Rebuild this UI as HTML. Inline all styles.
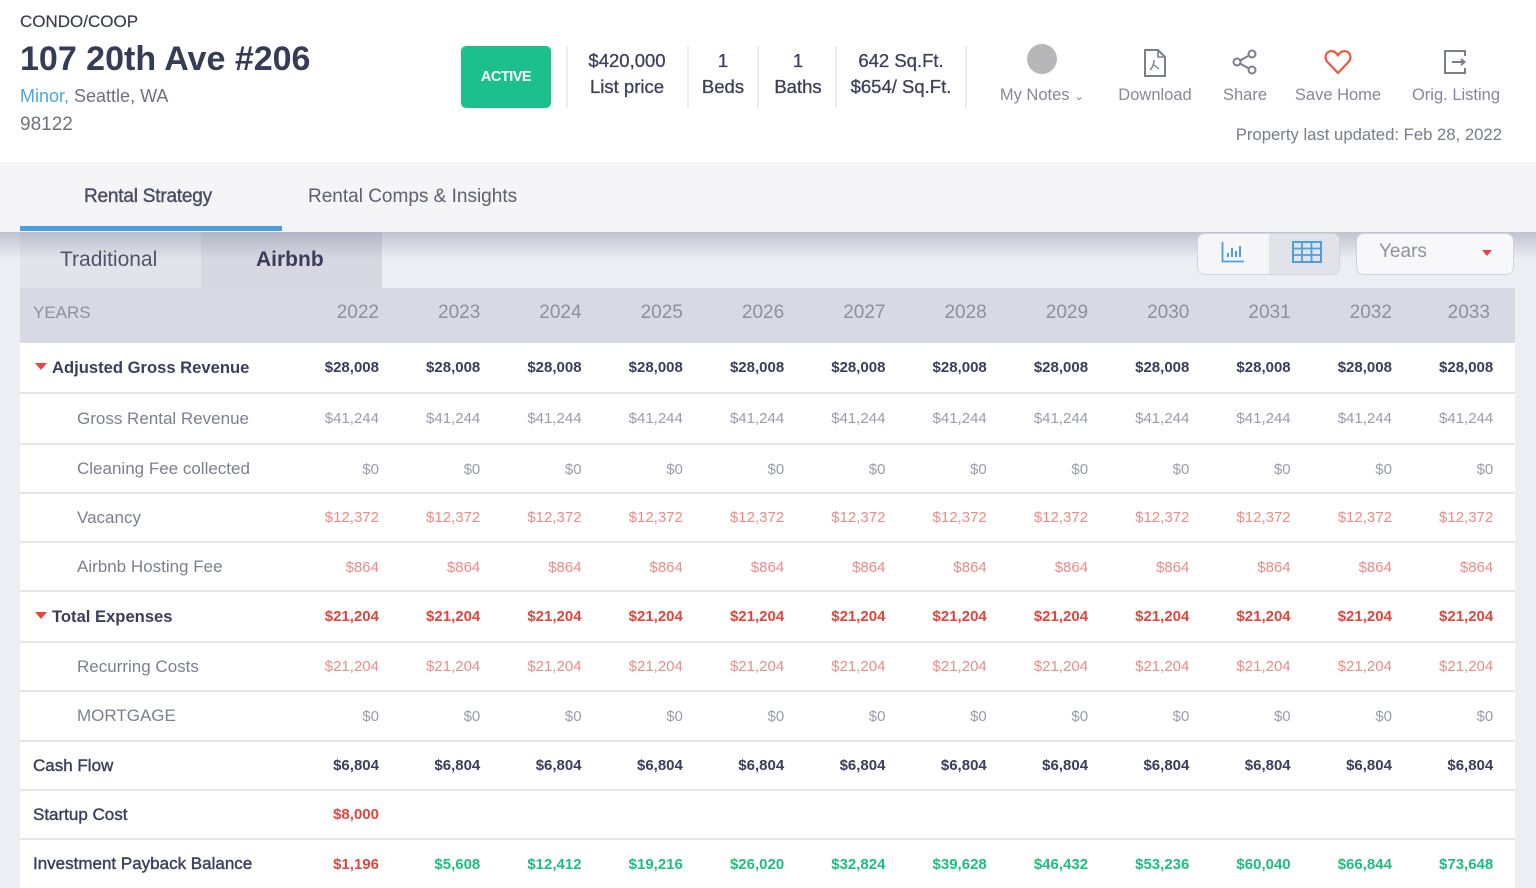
<!DOCTYPE html>
<html><head><meta charset="utf-8">
<style>
*{margin:0;padding:0;box-sizing:border-box}
body{width:1536px;height:885px;overflow:hidden;background:#eceef3;font-family:"Liberation Sans",Arial,sans-serif;position:relative}
.abs{position:absolute}
#top{left:0;top:0;width:1536px;height:162px;background:#fff}
#tabbar{left:0;top:162px;width:1536px;height:70px;background:#f5f5f8}
.sep{position:absolute;top:46px;width:2px;height:62px;background:#ececf0}
.stat{position:absolute;top:48px;text-align:center;font-size:18.5px;color:#3c405c;line-height:26px;transform:translateX(-50%);white-space:nowrap;-webkit-text-stroke:0.3px #3c405c}
.act{position:absolute;top:86px;font-size:16.5px;color:#868995;transform:translateX(-50%);white-space:nowrap}
.r{position:absolute;left:20px;width:1495px;background:#fff;display:flex;align-items:center;border-top:2px solid #e5e6eb}
.lab{width:257.7px;font-size:17px;white-space:nowrap;flex:none}
.c{width:101.3px;text-align:right;font-size:15px;flex:none;white-space:nowrap}
.main .lab{font-weight:bold;color:#3a3e58;font-size:16.6px}
.sub .lab{padding-left:57px;color:#7c7f8f}
.top .lab{padding-left:13px;color:#3a3e58;-webkit-text-stroke:0.4px #3a3e58}
.tri{display:inline-block;width:0;height:0;border-left:6px solid transparent;border-right:6px solid transparent;border-top:7px solid #e8453c;margin-left:15px;margin-right:5px;vertical-align:3px}
.b{font-weight:bold;color:#3a3e58}
.g{color:#9a9cab}
.rb{font-weight:bold;color:#e2453d}
.rl{color:#ef8b85}
.gr{font-weight:bold;color:#1dbf7d}
.yr{font-size:19px;color:#8e909c}
</style></head><body>

<div id="top" class="abs"></div>
<div class="abs" style="left:20px;top:12px;font-size:17px;color:#3b3f4f;-webkit-text-stroke:0.2px #3b3f4f">CONDO/COOP</div>
<div class="abs" style="left:20px;top:40px;font-size:34px;font-weight:bold;color:#363b56">107 20th Ave #206</div>
<div class="abs" style="left:20px;top:86px;font-size:18px;color:#6e717c"><span style="color:#4aa9e2">Minor,</span> Seattle, WA</div>
<div class="abs" style="left:20px;top:114px;font-size:19px;color:#6e717c">98122</div>

<div class="abs" style="left:461px;top:46px;width:90px;height:62px;background:#1cc08b;border-radius:5px;color:#fff;font-weight:bold;font-size:14.5px;text-align:center;line-height:62px;letter-spacing:-0.5px">ACTIVE</div>
<div class="sep" style="left:566px"></div>
<div class="stat" style="left:627px">$420,000<br>List price</div>
<div class="sep" style="left:687px"></div>
<div class="stat" style="left:723px">1<br>Beds</div>
<div class="sep" style="left:757px"></div>
<div class="stat" style="left:798px">1<br>Baths</div>
<div class="sep" style="left:835px"></div>
<div class="stat" style="left:901px">642 Sq.Ft.<br>$654/ Sq.Ft.</div>
<div class="sep" style="left:965px"></div>

<div class="abs" style="left:1027px;top:44px;width:30px;height:30px;border-radius:50%;background:#b7b7b9"></div>
<div class="act" style="left:1042px">My Notes <span style="font-size:12px">&#8964;</span></div>
<svg class="abs" style="left:1143px;top:48px" width="24" height="30" viewBox="0 0 24 30"><path d="M2 2 H15 L22 9 V28 H2 Z" fill="none" stroke="#7c7f8b" stroke-width="2"/><path d="M15 2 V9 H22" fill="none" stroke="#7c7f8b" stroke-width="1.6"/><path d="M11 12 C11 17 9 20 7 22 M11 17 L16 21" fill="none" stroke="#7c7f8b" stroke-width="1.4"/></svg>
<div class="act" style="left:1155px">Download</div>
<svg class="abs" style="left:1232px;top:49px" width="26" height="26" viewBox="0 0 26 26"><circle cx="20" cy="5" r="3.5" fill="none" stroke="#7c7f8b" stroke-width="2"/><circle cx="5" cy="13" r="3.5" fill="none" stroke="#7c7f8b" stroke-width="2"/><circle cx="20" cy="21" r="3.5" fill="none" stroke="#7c7f8b" stroke-width="2"/><path d="M8 11.5 L17 6.5 M8 14.5 L17 19.5" stroke="#7c7f8b" stroke-width="2"/></svg>
<div class="act" style="left:1245px">Share</div>
<svg class="abs" style="left:1324px;top:49px" width="28" height="26" viewBox="0 0 28 26"><path d="M14 24 L3.5 13 C0 9 1.5 3 6.5 2.2 C10 1.7 12.5 4 14 6.5 C15.5 4 18 1.7 21.5 2.2 C26.5 3 28 9 24.5 13 Z" fill="none" stroke="#f1573d" stroke-width="2.2" stroke-linejoin="round"/></svg>
<div class="act" style="left:1338px">Save Home</div>
<svg class="abs" style="left:1443px;top:49px" width="26" height="26" viewBox="0 0 26 26"><path d="M22 7 V2 H2 V24 H22 V19" fill="none" stroke="#7c7f8b" stroke-width="2"/><path d="M9 13 H21 M18 10 L21.5 13 L18 16" fill="none" stroke="#7c7f8b" stroke-width="2"/></svg>
<div class="act" style="left:1456px">Orig. Listing</div>
<div class="abs" style="right:34px;top:125px;font-size:16.7px;color:#7a7d88">Property last updated: Feb 28, 2022</div>

<div id="tabbar" class="abs"></div>
<div class="abs" style="left:84px;top:186px;font-size:19px;color:#4a4e62;letter-spacing:-0.2px;-webkit-text-stroke:0.4px #4a4e62">Rental Strategy</div>
<div class="abs" style="left:308px;top:186px;font-size:19px;color:#5c6070">Rental Comps &amp; Insights</div>
<div class="abs" style="left:20px;top:226px;width:262px;height:5px;background:#4b9fe1"></div>

<!-- lower area -->
<div class="abs" style="left:20px;top:232px;width:181px;height:56px;background:#e3e4eb"></div>
<div class="abs" style="left:201px;top:232px;width:181px;height:56px;background:#d7d8e2"></div>
<div class="abs" style="left:0;top:232px;width:1536px;height:28px;background:linear-gradient(to bottom,rgba(110,115,140,0.35),rgba(110,115,140,0))"></div>
<div class="abs" style="left:60px;top:248px;font-size:21px;color:#50546a">Traditional</div>
<div class="abs" style="left:256px;top:248px;font-size:21px;font-weight:bold;color:#3a3e58">Airbnb</div>

<div class="abs" style="left:1197px;top:233px;width:143px;height:42px;border:1px solid #d2d3dc;border-radius:8px;background:#f6f6f9;overflow:hidden">
  <div class="abs" style="left:71px;top:0;width:72px;height:42px;background:#e2e3ea"></div>
</div>
<svg class="abs" style="left:1221px;top:241px" width="24" height="22" viewBox="0 0 24 22"><path d="M1.5 1 V20.5 H23" fill="none" stroke="#4b9fe1" stroke-width="1.8"/><path d="M7 16 V12 M11 16 V7 M15 16 V10 M19 16 V5" stroke="#4b9fe1" stroke-width="2"/></svg>
<svg class="abs" style="left:1292px;top:241px" width="30" height="22" viewBox="0 0 30 22"><rect x="1" y="1" width="28" height="20" fill="none" stroke="#4b9fe1" stroke-width="2"/><path d="M1 7.5 H29 M1 14 H29 M10 1 V21 M19.5 1 V21" stroke="#4b9fe1" stroke-width="1.8"/></svg>
<div class="abs" style="left:1356px;top:233px;width:158px;height:42px;border:1px solid #d2d3dc;border-radius:8px;background:#f8f8fa"></div>
<div class="abs" style="left:1379px;top:241px;font-size:19px;color:#8f919d">Years</div>
<div class="abs" style="left:1482px;top:250px;width:0;height:0;border-left:5px solid transparent;border-right:5px solid transparent;border-top:6px solid #e2453d"></div>

<!-- header -->
<div class="abs" style="left:20px;top:288px;width:1495px;height:52px;display:flex;align-items:center"></div>
<div class="abs" style="left:20px;top:288px;width:1495px;height:55px;background:#d8d9e3"></div>
<div class="abs" style="left:20px;top:286px;width:1495px;height:53px;display:flex;align-items:center">
  <div class="lab" style="padding-left:13px;font-size:17px;color:#8e909c">YEARS</div>
  <div class="c yr">2022</div>
  <div class="c yr">2023</div>
  <div class="c yr">2024</div>
  <div class="c yr">2025</div>
  <div class="c yr">2026</div>
  <div class="c yr">2027</div>
  <div class="c yr">2028</div>
  <div class="c yr">2029</div>
  <div class="c yr">2030</div>
  <div class="c yr">2031</div>
  <div class="c yr">2032</div>
  <div class="c yr" style="width:98px">2033</div>
</div>

<div class="r main" style="top:343px;height:51px;border-top:none;border-bottom:2px solid #e3e4e9">
  <div class="lab"><span class="tri"></span>Adjusted Gross Revenue</div>
  <div class="c b">$28,008</div><div class="c b">$28,008</div><div class="c b">$28,008</div><div class="c b">$28,008</div><div class="c b">$28,008</div><div class="c b">$28,008</div><div class="c b">$28,008</div><div class="c b">$28,008</div><div class="c b">$28,008</div><div class="c b">$28,008</div><div class="c b">$28,008</div><div class="c b">$28,008</div>
</div>
<div class="r sub" style="top:394px;height:49px;border-top:none">
  <div class="lab">Gross Rental Revenue</div>
  <div class="c g">$41,244</div><div class="c g">$41,244</div><div class="c g">$41,244</div><div class="c g">$41,244</div><div class="c g">$41,244</div><div class="c g">$41,244</div><div class="c g">$41,244</div><div class="c g">$41,244</div><div class="c g">$41,244</div><div class="c g">$41,244</div><div class="c g">$41,244</div><div class="c g">$41,244</div>
</div>
<div class="r sub" style="top:443px;height:50px">
  <div class="lab">Cleaning Fee collected</div>
  <div class="c g">$0</div><div class="c g">$0</div><div class="c g">$0</div><div class="c g">$0</div><div class="c g">$0</div><div class="c g">$0</div><div class="c g">$0</div><div class="c g">$0</div><div class="c g">$0</div><div class="c g">$0</div><div class="c g">$0</div><div class="c g">$0</div>
</div>
<div class="r sub" style="top:492px;height:49px">
  <div class="lab">Vacancy</div>
  <div class="c rl">$12,372</div><div class="c rl">$12,372</div><div class="c rl">$12,372</div><div class="c rl">$12,372</div><div class="c rl">$12,372</div><div class="c rl">$12,372</div><div class="c rl">$12,372</div><div class="c rl">$12,372</div><div class="c rl">$12,372</div><div class="c rl">$12,372</div><div class="c rl">$12,372</div><div class="c rl">$12,372</div>
</div>
<div class="r sub" style="top:541px;height:50px">
  <div class="lab">Airbnb Hosting Fee</div>
  <div class="c rl">$864</div><div class="c rl">$864</div><div class="c rl">$864</div><div class="c rl">$864</div><div class="c rl">$864</div><div class="c rl">$864</div><div class="c rl">$864</div><div class="c rl">$864</div><div class="c rl">$864</div><div class="c rl">$864</div><div class="c rl">$864</div><div class="c rl">$864</div>
</div>
<div class="r main" style="top:590px;height:51px">
  <div class="lab"><span class="tri"></span>Total Expenses</div>
  <div class="c rb">$21,204</div><div class="c rb">$21,204</div><div class="c rb">$21,204</div><div class="c rb">$21,204</div><div class="c rb">$21,204</div><div class="c rb">$21,204</div><div class="c rb">$21,204</div><div class="c rb">$21,204</div><div class="c rb">$21,204</div><div class="c rb">$21,204</div><div class="c rb">$21,204</div><div class="c rb">$21,204</div>
</div>
<div class="r sub" style="top:641px;height:49px">
  <div class="lab">Recurring Costs</div>
  <div class="c rl">$21,204</div><div class="c rl">$21,204</div><div class="c rl">$21,204</div><div class="c rl">$21,204</div><div class="c rl">$21,204</div><div class="c rl">$21,204</div><div class="c rl">$21,204</div><div class="c rl">$21,204</div><div class="c rl">$21,204</div><div class="c rl">$21,204</div><div class="c rl">$21,204</div><div class="c rl">$21,204</div>
</div>
<div class="r sub" style="top:690px;height:50px">
  <div class="lab">MORTGAGE</div>
  <div class="c g">$0</div><div class="c g">$0</div><div class="c g">$0</div><div class="c g">$0</div><div class="c g">$0</div><div class="c g">$0</div><div class="c g">$0</div><div class="c g">$0</div><div class="c g">$0</div><div class="c g">$0</div><div class="c g">$0</div><div class="c g">$0</div>
</div>
<div class="r top" style="top:740px;height:49px">
  <div class="lab">Cash Flow</div>
  <div class="c b">$6,804</div><div class="c b">$6,804</div><div class="c b">$6,804</div><div class="c b">$6,804</div><div class="c b">$6,804</div><div class="c b">$6,804</div><div class="c b">$6,804</div><div class="c b">$6,804</div><div class="c b">$6,804</div><div class="c b">$6,804</div><div class="c b">$6,804</div><div class="c b">$6,804</div>
</div>
<div class="r top" style="top:789px;height:49px">
  <div class="lab">Startup Cost</div>
  <div class="c rb">$8,000</div>
</div>
<div class="r top" style="top:838px;height:50px">
  <div class="lab">Investment Payback Balance</div>
  <div class="c rb">$1,196</div><div class="c gr">$5,608</div><div class="c gr">$12,412</div><div class="c gr">$19,216</div><div class="c gr">$26,020</div><div class="c gr">$32,824</div><div class="c gr">$39,628</div><div class="c gr">$46,432</div><div class="c gr">$53,236</div><div class="c gr">$60,040</div><div class="c gr">$66,844</div><div class="c gr">$73,648</div>
</div>

</body></html>
